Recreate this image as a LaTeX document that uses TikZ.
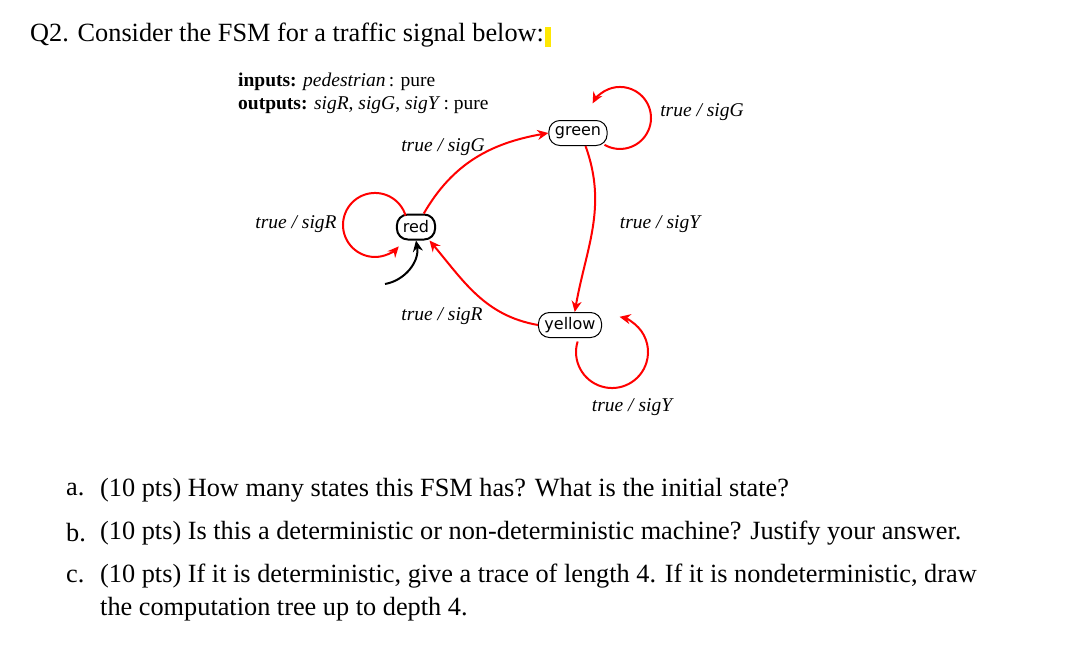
\documentclass[tikz,border=0pt]{standalone}
\usepackage{fontspec}
\setmainfont{Liberation Serif}
\newfontfamily\statefont{DejaVu Sans}
\usetikzlibrary{arrows.meta}
\begin{document}
\begin{tikzpicture}[x=1pt,y=-1pt,
  st/.style={draw,rounded corners=11pt,line width=1pt,minimum height=25pt,inner xsep=6pt,font=\statefont\fontsize{16}{18}\selectfont},
  tr/.style={red,line width=2pt,-{Stealth[length=11pt,width=10pt]}},
  lab/.style={font=\fontsize{19.5}{22}\selectfont\itshape},
  q/.style={anchor=west,inner sep=0pt,font=\fontsize{26.3}{30}\selectfont}]
\useasboundingbox (0,0) rectangle (1077,662);
\node[q] (title) at (30,35) {Q2. Consider the FSM for a traffic signal below:};
\fill[yellow!90!orange] (545,27) rectangle (551,47);
\node[anchor=west,inner sep=0pt,font=\fontsize{19.5}{22}\selectfont] (in) at (238,82) {\textbf{inputs:} \textit{pedestrian}\,: pure};
\node[anchor=west,inner sep=0pt,font=\fontsize{19.5}{22}\selectfont] (out) at (238,105) {\textbf{outputs:} \textit{sigR}, \textit{sigG}, \textit{sigY}\,: pure};
\node[st] (green) at (578,133) {green};
\node[st,line width=2pt] (red) at (416,227) {red};
\node[st] (yellow) at (570,325) {yellow};
\coordinate (gs) at (604.5,144.8);
\draw[tr] (gs) arc[start angle=120,end angle=-152,radius=31];
\coordinate (rs) at (405.6,215.6);
\draw[tr] (rs) arc[start angle=-17,end angle=-318,radius=32];
\coordinate (ys) at (577.6,341.5);
\draw[tr] (ys) arc[start angle=197,end angle=-78,radius=36];
\draw[tr] (red.60) to[out=60,in=190] (green.west);
\draw[tr] (green.-60) to[out=-70,in=80] (yellow.70);
\draw[tr] (yellow.west) to[out=170,in=-50] (red.-45);
\coordinate (init) at (385,284);
\draw[line width=2pt,-{Stealth[length=11pt,width=10pt]}] (init) to[out=10,in=-80] (red.-90);
\node[lab] (l1) at (443,147) {true / sigG};
\node[lab] (l2) at (702,112) {true / sigG};
\node[lab] (l3) at (296,224) {true / sigR};
\node[lab] (l4) at (660,224) {true / sigY};
\node[lab] (l5) at (442,316) {true / sigR};
\node[lab] (l6) at (632,407) {true / sigY};
\node[q] (qa) at (66,490) {a.}; \node[q] (ta) at (100,490) {(10 pts) How many states this FSM has? What is the initial state?};
\node[q] (qb) at (66,533) {b.}; \node[q] (tb) at (100,533) {(10 pts) Is this a deterministic or non-deterministic machine? Justify your answer.};
\node[q] (qc) at (66,576) {c.}; \node[q] (tc) at (100,576) {(10 pts) If it is deterministic, give a trace of length 4. If it is nondeterministic, draw};
\node[q] (tc2) at (100,609) {the computation tree up to depth 4.};
\end{tikzpicture}
\end{document}
